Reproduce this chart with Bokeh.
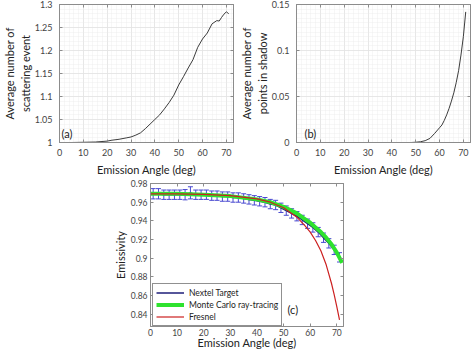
from bokeh.plotting import figure
from bokeh.models import (Range1d, FixedTicker, LinearAxis, Label, Legend, LegendItem,
                          Whisker, ColumnDataSource, TeeHead, Spacer, CustomLabelingPolicy)
from bokeh.layouts import column, row
from bokeh.embed import file_html
from bokeh.resources import INLINE

# ---------------- data ----------------
angle_a = [0, 5, 10, 15, 20, 22, 25, 28, 30, 32, 34, 36, 38, 40, 42, 44, 46, 48, 50,
           52, 54, 56, 58, 60, 62, 64, 66, 67, 68, 69, 70, 71]
scatter_a = [1.000, 1.000, 1.0005, 1.001, 1.003, 1.005, 1.007, 1.010, 1.012, 1.016, 1.021,
             1.030, 1.040, 1.050, 1.060, 1.073, 1.087, 1.103, 1.125, 1.143, 1.162, 1.180,
             1.207, 1.225, 1.238, 1.258, 1.265, 1.264, 1.272, 1.279, 1.284, 1.280]

angle_b = [0, 10, 20, 30, 40, 48, 50, 52, 54, 56, 58, 60, 61, 62, 63, 64, 65, 66, 67,
           68, 69, 70, 71]
shadow_b = [0, 0, 0, 0, 0, 0, 0.0003, 0.0008, 0.002, 0.0045, 0.010, 0.016, 0.019, 0.024,
            0.030, 0.037, 0.045, 0.054, 0.065, 0.078, 0.095, 0.115, 0.142]

angle_meas = [1, 3, 5, 7, 9, 11, 13, 15, 17, 19, 21, 23, 25, 27, 29, 31, 33, 35, 37, 39,
              41, 43, 45, 47, 49, 51, 53, 55, 57, 59, 61, 63, 65, 67, 69, 71]
emis_meas = [0.969, 0.969, 0.968, 0.968, 0.968, 0.968, 0.968, 0.970, 0.968, 0.968, 0.968,
             0.967, 0.967, 0.966, 0.966, 0.965, 0.965, 0.964, 0.963, 0.962, 0.961, 0.960,
             0.958, 0.957, 0.954, 0.951, 0.948, 0.945, 0.941, 0.937, 0.933, 0.928, 0.922,
             0.916, 0.909, 0.901]
emis_err = [0.0055, 0.0055, 0.005, 0.005, 0.005, 0.005, 0.0055, 0.0065, 0.005, 0.005,
            0.005, 0.005, 0.005, 0.005, 0.005, 0.005, 0.005, 0.005, 0.005, 0.005, 0.005,
            0.005, 0.005, 0.005, 0.005, 0.005, 0.005, 0.005, 0.005, 0.005, 0.005, 0.005,
            0.005, 0.005, 0.005, 0.005]

angle_mc = [0, 10, 20, 30, 40, 45, 50, 55, 58, 60, 62, 64, 66, 68, 70, 72]
emis_mc = [0.969, 0.969, 0.968, 0.9665, 0.963, 0.960, 0.955, 0.948, 0.942, 0.938, 0.933,
           0.928, 0.922, 0.915, 0.906, 0.895]

angle_fr = [0, 10, 20, 30, 40, 45, 50, 55, 58, 60, 62, 64, 66, 68, 69, 70, 71]
emis_fr = [0.969, 0.9688, 0.9683, 0.967, 0.9635, 0.960, 0.954, 0.944, 0.935, 0.928, 0.919,
           0.908, 0.893, 0.873, 0.861, 0.848, 0.834]

x_ticks = [0, 10, 20, 30, 40, 50, 60, 70]
y_ticks_a = [1, 1.05, 1.1, 1.15, 1.2, 1.25, 1.3]
y_labels_a = ["1", "1.05", "1.1", "1.15", "1.2", "1.25", "1.3"]
y_ticks_b = [0, 0.05, 0.1, 0.15]
y_labels_b = ["0", "0.05", "0.1", "0.15"]
y_ticks_c = [0.84, 0.86, 0.88, 0.9, 0.92, 0.94, 0.96, 0.98]
y_labels_c = ["0.84", "0.86", "0.88", "0.9", "0.92", "0.94", "0.96", "0.98"]

# ---------------- style ----------------
FONT = "Lato"
AXC = "#8c8c8c"
TICKC = "#444444"
LABC = "#222222"

HIDE_LABELS = "for (let i = 0; i < indices.size; i++) { indices.unset(i) }"


def make_fig(w, h, lb, rb, tb, bb, xr, yr):
    p = figure(width=w, height=h, x_range=Range1d(*xr), y_range=Range1d(*yr),
               output_backend="svg", toolbar_location=None,
               min_border_left=lb, min_border_right=rb, min_border_top=tb,
               min_border_bottom=bb)
    p.outline_line_color = AXC
    p.outline_line_width = 1
    p.background_fill_color = "white"
    p.border_fill_color = "white"
    return p


def style(p, yt, ylab, tsize, xlabel, ylabel, xls, yls, xminor, yminor, grid):
    xt = FixedTicker(ticks=x_ticks, minor_ticks=xminor)
    ytk = FixedTicker(ticks=yt, minor_ticks=yminor)
    p.xaxis.ticker = xt
    p.yaxis.ticker = ytk
    p.yaxis.major_label_overrides = {t: l for t, l in zip(yt, ylab)}
    for ax in (p.xaxis[0], p.yaxis[0]):
        ax.axis_line_color = AXC
        ax.major_tick_line_color = AXC
        ax.major_tick_in = 3
        ax.major_tick_out = 0
        ax.minor_tick_line_color = None
        ax.major_label_text_font = FONT
        ax.major_label_text_font_size = tsize
        ax.major_label_text_color = TICKC
        ax.axis_label_text_font = FONT
        ax.axis_label_text_font_size = "11px"
        ax.axis_label_text_font_style = "normal"
        ax.axis_label_text_color = LABC
        ax.major_label_standoff = 2
    p.xaxis.axis_label = xlabel
    p.yaxis.axis_label = ylabel
    p.xaxis.axis_label_standoff = xls
    p.yaxis.axis_label_standoff = yls
    p.yaxis.major_label_standoff = 3
    # mirrored ticks on top and right (labels hidden, zero size)
    for side, tk in (("above", xt), ("right", ytk)):
        ax = LinearAxis(ticker=tk, major_label_policy=CustomLabelingPolicy(code=HIDE_LABELS))
        ax.axis_line_color = AXC
        ax.major_tick_line_color = AXC
        ax.major_tick_in = 3
        ax.major_tick_out = 0
        ax.minor_tick_line_color = None
        ax.major_label_text_font_size = "0px"
        ax.major_label_standoff = 0
        p.add_layout(ax, side)
    if grid:
        for g in (p.xgrid[0], p.ygrid[0]):
            g.grid_line_color = "#e2e2e2"
            g.grid_line_width = 0.8
            g.minor_grid_line_color = "#ebebeb"
            g.minor_grid_line_width = 0.8
            g.minor_grid_line_dash = "1 1"
    else:
        p.xgrid.grid_line_color = None
        p.ygrid.grid_line_color = None


xminor_ab = [v for v in range(0, 74, 2)]

# ---------------- panel (a) ----------------
pa = make_fig(237, 178, 48, 4, 4, 29, (0, 73), (1, 1.3))
style(pa, y_ticks_a, y_labels_a, "9px", "Emission Angle (deg)",
      "Average number of\nscattering event", 4, 0,
      xminor_ab, [round(1 + 0.01 * i, 2) for i in range(31)], True)
pa.line(angle_a, scatter_a, line_color="#3c3c3c", line_width=1)
pa.add_layout(Label(x=2, y=3, x_units="screen", y_units="screen", text="(a)",
                    text_font=FONT, text_font_size="11px", text_color=LABC))

# ---------------- panel (b) ----------------
pb = make_fig(237, 178, 50, 2, 4, 29, (0, 73), (0, 0.15))
style(pb, y_ticks_b, y_labels_b, "9px", "Emission Angle (deg)",
      "Average number of\npoints in shadow", 4, 0,
      xminor_ab, [round(0.005 * i, 3) for i in range(31)], True)
pb.line(angle_b, shadow_b, line_color="#3c3c3c", line_width=1)
pb.add_layout(Label(x=8, y=3, x_units="screen", y_units="screen", text="(b)",
                    text_font=FONT, text_font_size="11px", text_color=LABC))

# ---------------- panel (c) ----------------
pc = make_fig(240, 173, 40, 7, 5, 23, (0, 72.5), (0.827, 0.98))
style(pc, y_ticks_c, y_labels_c, "8.5px", "Emission Angle (deg)", "Emissivity", -3, 1,
      [], [], False)
ERR = "#4848d0"
src = ColumnDataSource(dict(x=angle_meas, y=emis_meas,
                            upper=[v + e for v, e in zip(emis_meas, emis_err)],
                            lower=[v - e for v, e in zip(emis_meas, emis_err)]))
pc.add_layout(Whisker(source=src, base="x", upper="upper", lower="lower",
                      line_color=ERR, line_width=1,
                      upper_head=TeeHead(size=5, line_color=ERR, line_width=1),
                      lower_head=TeeHead(size=5, line_color=ERR, line_width=1)))
r_nav = pc.line("x", "y", source=src, line_color="#1e1e78", line_width=1.5)
r_mc = pc.line(angle_mc, emis_mc, line_color="#2ee22e", line_width=4)
r_fr = pc.line(angle_fr, emis_fr, line_color="#cc2020", line_width=1.2)

legend = Legend(items=[LegendItem(label="Nextel Target", renderers=[r_nav]),
                       LegendItem(label="Monte Carlo ray-tracing", renderers=[r_mc]),
                       LegendItem(label="Fresnel", renderers=[r_fr])],
                location=(2, 0), margin=0, padding=3, spacing=1,
                glyph_width=28, glyph_height=11, label_height=11, label_standoff=5,
                label_text_font=FONT, label_text_font_size="8.5px",
                label_text_color=LABC, border_line_color="#222222",
                border_line_width=1, background_fill_alpha=1)
pc.add_layout(legend)
pc.add_layout(Label(x=137, y=11, x_units="screen", y_units="screen", text="(c)",
                    text_font=FONT, text_font_size="11px", text_color=LABC))

layout = column(row(pa, pb), row(Spacer(width=110, height=173), pc))
open("out.html", "w").write(file_html(layout, INLINE))
